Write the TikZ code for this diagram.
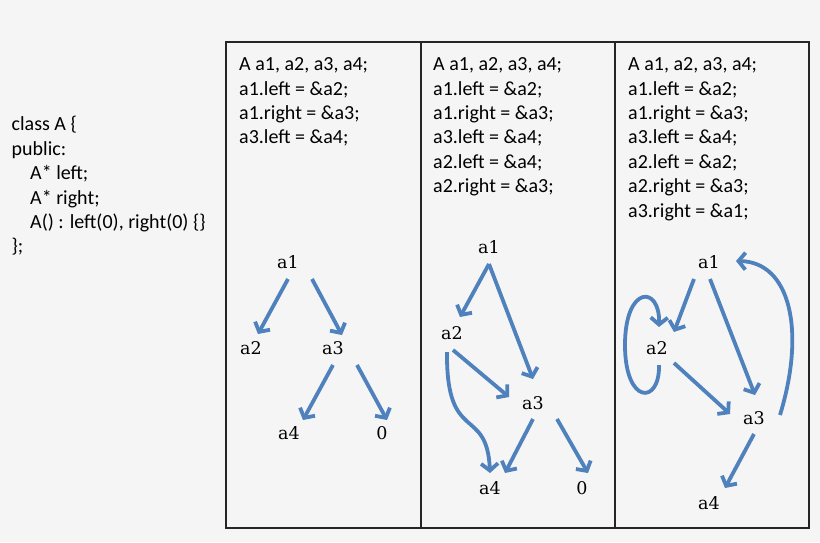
\documentclass[tikz,border=0pt]{standalone}
\usepackage{fontspec}
\newfontfamily\codefont{Carlito}
\newfontfamily\noeudfont{DejaVu Serif}
\usetikzlibrary{arrows.meta}
\definecolor{bleu}{RGB}{79,129,189}
\definecolor{fond}{RGB}{245,245,245}
\begin{document}
\begin{tikzpicture}[x=1pt,y=-1pt]
	\tikzstyle{fleche}=[draw=bleu,line width=3.8pt,-{Straight Barb[length=7pt,width=17pt]}]
	\tikzstyle{noeud}=[inner sep=0pt,font=\noeudfont\fontsize{17.5}{21}\selectfont]
	\tikzstyle{code}=[anchor=north west,inner sep=0pt,align=left,font=\codefont\fontsize{20}{24.4}\selectfont]
	\tikzstyle{cadre}=[draw=black!85,line width=1.5pt]
	\def\Haut{42}
	\def\Bas{528}
	\def\Retrait{\hspace*{18.5pt}}
	% fond et cadres
	\fill[fond] (0,0) rectangle (820,542);
	\draw[cadre] (226,\Haut) rectangle (809,\Bas);
	\draw[cadre] (421,\Haut) -- (421,\Bas);
	\draw[cadre] (615,\Haut) -- (615,\Bas);
	% textes
	\node[code] (classe) at (11.5,113.6) {\strut class A \{\\public:\\\Retrait A* left;\\\Retrait A* right;\\\Retrait A() : left(0), right(0) \{\}\\\};};
	\node[code] (codeA) at (239,53.4) {\strut A a1, a2, a3, a4;\\a1.left = \&a2;\\a1.right = \&a3;\\a3.left = \&a4;};
	\node[code] (codeB) at (433,53.4) {\strut A a1, a2, a3, a4;\\a1.left = \&a2;\\a1.right = \&a3;\\a3.left = \&a4;\\a2.left = \&a4;\\a2.right = \&a3;};
	\node[code] (codeC) at (628,53.4) {\strut A a1, a2, a3, a4;\\a1.left = \&a2;\\a1.right = \&a3;\\a3.left = \&a4;\\a2.left = \&a2;\\a2.right = \&a3;\\a3.right = \&a1;};
	% premier cadre
	\node[noeud] (Aa1) at (288,262) {a1};
	\node[noeud] (Aa2) at (251,348) {a2};
	\node[noeud] (Aa3) at (333,348) {a3};
	\node[noeud] (Aa4) at (289,433) {a4};
	\node[noeud] (Az) at (382,433) {0};
	\draw[fleche] ([shift={(0,17)}]Aa1.center)--([shift={(7,-14)}]Aa2.center);
	\draw[fleche] ([shift={(24,17)}]Aa1.center)--([shift={(9,-13)}]Aa3.center);
	\draw[fleche] ([shift={(0,17)}]Aa3.center)--([shift={(14,-13)}]Aa4.center);
	\draw[fleche] ([shift={(24,17)}]Aa3.center)--([shift={(5,-13)}]Az.center);
	% deuxieme cadre
	\node[noeud] (Ba1) at (489,247) {a1};
	\node[noeud] (Ba2) at (452,333) {a2};
	\node[noeud] (Ba3) at (533,403) {a3};
	\node[noeud] (Ba4) at (490,488) {a4};
	\node[noeud] (Bz) at (582,488) {0};
	\draw[fleche] ([shift={(0,17)}]Ba1.center)--([shift={(8,-16)}]Ba2.center);
	\draw[fleche] ([shift={(0,17)}]Ba1.center)--([shift={(0,-24)}]Ba3.center);
	\draw[fleche] ([shift={(1,17)}]Ba2.center)--([shift={(-24,-6)}]Ba3.center);
	\draw[fleche] ([shift={(-5,19)}]Ba2.center) .. controls (446,445) and (487,405) .. ([shift={(0,-15)}]Ba4.center);
	\draw[fleche] ([shift={(0,16)}]Ba3.center)--([shift={(15,-15)}]Ba4.center);
	\draw[fleche] ([shift={(24,16)}]Ba3.center)--([shift={(6,-15)}]Bz.center);
	% troisieme cadre
	\node[noeud] (Ca1) at (709,262) {a1};
	\node[noeud] (Ca2) at (657,348) {a2};
	\node[noeud] (Ca3) at (754,418) {a3};
	\node[noeud] (Ca4) at (709,503) {a4};
	\draw[fleche] ([shift={(-15,17)}]Ca1.center)--([shift={(17,-16)}]Ca2.center);
	\draw[fleche] ([shift={(1,17)}]Ca1.center)--([shift={(1,-23)}]Ca3.center);
	\draw[fleche] ([shift={(17,15)}]Ca2.center)--([shift={(-24,-4)}]Ca3.center);
	\draw[fleche] ([shift={(0,16)}]Ca3.center)--([shift={(16,-15)}]Ca4.center);
	\draw[fleche] ([shift={(26,-3)}]Ca3.center) .. controls (806,330) and (790,262) .. ([shift={(27,-1)}]Ca1.center);
	\draw[fleche] ([shift={(2,17)}]Ca2.center) .. controls (660,405) and (625,405) .. (625,345) .. controls (625,285) and (660,285) .. ([shift={(2,-21)}]Ca2.center);
\end{tikzpicture}
\end{document}
